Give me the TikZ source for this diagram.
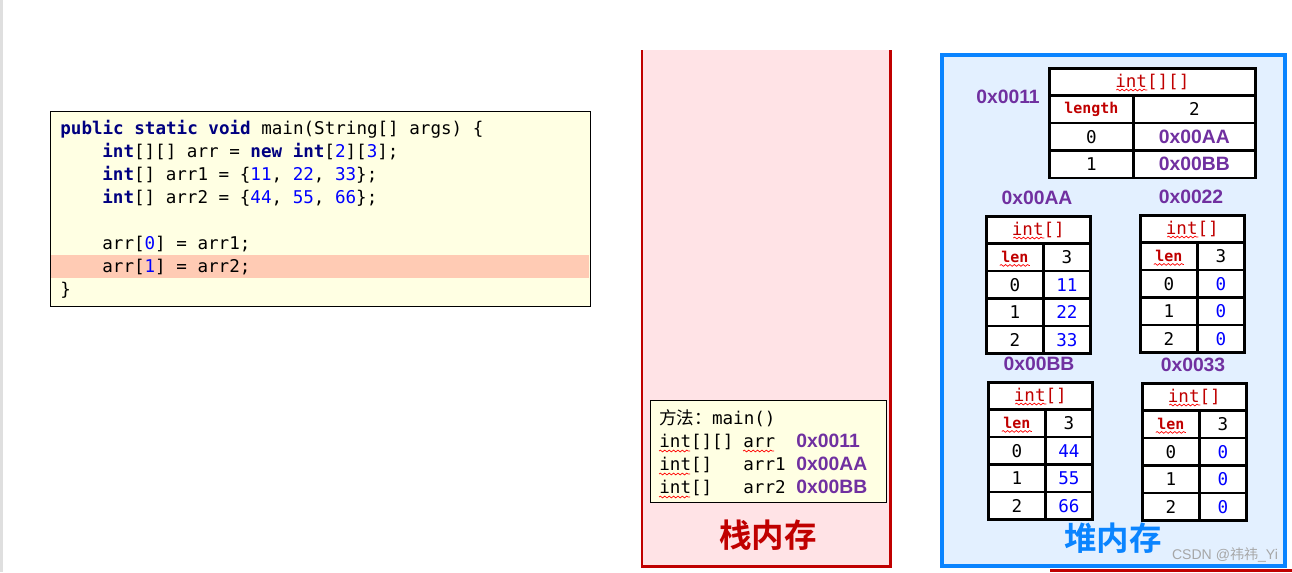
\documentclass[tikz,border=0pt]{standalone}
\usepackage{fontspec}
\setmainfont{Liberation Sans}
\setmonofont{DejaVu Sans Mono}
\newfontfamily\cjk{Noto Sans CJK SC}[BoldFont={Noto Sans CJK SC Bold}]
\usepackage{tikz}
\usetikzlibrary{positioning,calc,decorations.pathmorphing}
\usepackage{xcolor}

\definecolor{kwblue}{HTML}{000080}
\definecolor{numblue}{HTML}{0000FF}
\definecolor{addrpurple}{HTML}{7030A0}
\definecolor{stackred}{HTML}{C00000}
\definecolor{stackfill}{HTML}{FFE3E6}
\definecolor{heapblue}{HTML}{0A84FF}
\definecolor{heapfill}{HTML}{E3F0FF}
\definecolor{codefill}{HTML}{FFFFE3}
\definecolor{hlfill}{HTML}{FFCBB4}

\newcommand{\kw}[1]{\textbf{\color{kwblue}#1}}
\newcommand{\nm}[1]{{\color{numblue}#1}}
\newcommand{\lenfont}{\bfseries\fontsize{8.5}{10}\selectfont}

% one int[] object on the heap: prefix, x, y, address, values
\newcommand{\smallarr}[7]{%
  \node[addr] (#1-addr) at (#2+52,#3-17) {#4};
  \node[cell, minimum width=104*0.02cm] (#1-head) at (#2,#3) {\color{stackred}int[]};
  \node[cell, minimum width=57*0.02cm] (#1-lenkey) at (#2,#3+27.4) {\color{stackred}\lenfont len};
  \node[cell, minimum width=47*0.02cm] (#1-lenval) at (#2+57,#3+27.4) {3};
  \foreach \i/\v in {0/#5,1/#6,2/#7} {
    \node[cell, minimum width=57*0.02cm] (#1-k\i) at (#2,#3+54.8+27.4*\i) {\i};
    \node[cell, minimum width=47*0.02cm] (#1-v\i) at (#2+57,#3+54.8+27.4*\i) {\nm{\v}};
  }
  \draw[squiggle] ($(#1-head.center)+(-25,8)$) -- ++(31,0);
  \draw[squiggle] ($(#1-lenkey.center)+(-15,8)$) -- ++(30,0);
}

\begin{document}
\begin{tikzpicture}[
    x=0.02cm, y=-0.02cm,
    code/.style={anchor=base west, inner sep=0pt, font=\ttfamily\fontsize{10}{11}\selectfont},
    cell/.style={draw, line width=1.5pt, fill=white, anchor=north west, inner sep=0pt,
                 minimum height=27.4*0.02cm, font=\ttfamily\fontsize{10}{11}\selectfont},
    addr/.style={text=addrpurple, font=\bfseries\fontsize{11}{12}\selectfont, inner sep=0pt},
    title/.style={font=\cjk\bfseries\fontsize{18.5}{20}\selectfont, inner sep=0pt},
    squiggle/.style={draw=red, line width=0.4pt, decorate,
                     decoration={snake, amplitude=0.5pt, segment length=2.5pt}}
]
\useasboundingbox (0,0) rectangle (1292,572);
\fill[gray!25] (0,0) rectangle (3,572);

% code
\node[draw, fill=codefill, anchor=north west, minimum width=540*0.02cm,
      minimum height=195*0.02cm, inner sep=0pt] (codebox) at (50,111) {};
\fill[hlfill] (51,255) rectangle (589,278);
\node[code] (line1) at (60,134) {\kw{public static void} main(String[] args) \{};
\node[code] (line2) at (102,157) {\kw{int}[][] arr = \kw{new} \kw{int}[\nm{2}][\nm{3}];};
\node[code] (line3) at (102,180) {\kw{int}[] arr1 = \{\nm{11}, \nm{22}, \nm{33}\};};
\node[code] (line4) at (102,203) {\kw{int}[] arr2 = \{\nm{44}, \nm{55}, \nm{66}\};};
\node[code] (line6) at (102,249) {arr[\nm{0}] = arr1;};
\node[code] (line7) at (102,272) {arr[\nm{1}] = arr2;};
\node[code] (line8) at (60,295) {\}};

% stack
\fill[stackfill] (642,50) rectangle (890,566);
\draw[stackred, line width=1.7pt] (642,50) -- (642,566) -- (890,566) -- (890,50);
\node[draw, fill=codefill, anchor=north west, minimum width=236*0.02cm,
      minimum height=102*0.02cm, inner sep=0pt] (frame) at (650,400) {};
\node[code] (method) at (659,424) {{\cjk 方法：}main()};
\node[code] (type1) at (659,447) {int[][]};
\node[code] (type2) at (659,470) {int[]};
\node[code] (type3) at (659,493) {int[]};
\node[code] (name1) at (743,447) {arr};
\node[code] (name2) at (743,470) {arr1};
\node[code] (name3) at (743,493) {arr2};
\node[addr, anchor=base west] (ref1) at (796,447) {0x0011};
\node[addr, anchor=base west] (ref2) at (796,470) {0x00AA};
\node[addr, anchor=base west] (ref3) at (796,493) {0x00BB};
\foreach \t in {type1,type2,type3}
  \draw[squiggle] ($(\t.base west)+(0,4)$) -- ++(31,0);
\draw[squiggle] ($(name1.base west)+(0,4)$) -- ++(31,0);
\node[title, text=stackred] (stacktitle) at (768,535) {栈内存};

% heap
\draw[heapblue, line width=2.2pt, fill=heapfill] (942,55) rectangle (1285,566);
\node[addr] (outer-addr) at (1008,97) {0x0011};
\node[cell, minimum width=206*0.02cm] (outer-head) at (1048,67) {\color{stackred}int[][]};
\node[cell, minimum width=84*0.02cm] (outer-lenkey) at (1048,94.4) {\color{stackred}\lenfont length};
\node[cell, minimum width=122*0.02cm] (outer-lenval) at (1132,94.4) {2};
\node[cell, minimum width=84*0.02cm] (outer-k0) at (1048,121.8) {0};
\node[cell, minimum width=122*0.02cm, text=addrpurple, font=\bfseries\fontsize{11}{12}\selectfont] (outer-v0) at (1132,121.8) {0x00AA};
\node[cell, minimum width=84*0.02cm] (outer-k1) at (1048,149.2) {1};
\node[cell, minimum width=122*0.02cm, text=addrpurple, font=\bfseries\fontsize{11}{12}\selectfont] (outer-v1) at (1132,149.2) {0x00BB};
\draw[squiggle] ($(outer-head.center)+(-36,8)$) -- ++(31,0);

\smallarr{arrA}{985}{215}{0x00AA}{11}{22}{33}
\smallarr{arrB}{1139}{214}{0x0022}{0}{0}{0}
\smallarr{arrC}{987}{381}{0x00BB}{44}{55}{66}
\smallarr{arrD}{1141}{382}{0x0033}{0}{0}{0}

\node[title, text=heapblue] (heaptitle) at (1113,538) {堆内存};
\node[text=gray!70, font=\fontsize{8}{9}\selectfont, inner sep=0pt] (mark) at (1225,555) {CSDN @{\cjk 祎祎}\_Yi};
\fill[stackred] (1050,569) rectangle (1292,572);

\end{tikzpicture}
\end{document}
